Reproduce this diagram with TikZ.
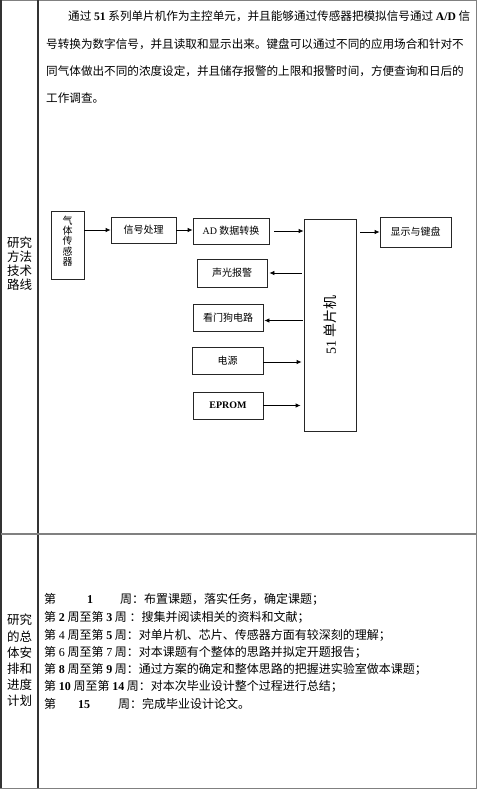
\documentclass[tikz,border=0pt]{standalone}
\usepackage{fontspec}
\setmainfont{Liberation Serif}
\newfontfamily\cjk{Noto Sans CJK SC}
\usetikzlibrary{arrows.meta,calc}
\XeTeXlinebreaklocale "zh"
\XeTeXlinebreakskip=0pt plus 2pt
\newcommand\en[1]{{\rmfamily #1}}
\newcommand\enb[1]{{\rmfamily\bfseries #1}}
\begin{document}
\begin{tikzpicture}[x=1pt,y=-1pt,
  tline/.style={line width=1.1pt,draw=black!80},
  gline/.style={line width=1.1pt,draw=black!50},
  box/.style={draw=black!85,line width=0.8pt,inner sep=0pt,font=\fontsize{10}{12}\cjk},
  arr/.style={-{Latex[length=5pt,width=4.5pt]},line width=0.8pt},
  para/.style={anchor=west,inner sep=0pt,font=\fontsize{11.6}{14}\cjk},
  sched/.style={anchor=west,inner sep=0pt,font=\fontsize{12}{14}\cjk},
  side/.style={align=center,inner sep=0pt}]
\useasboundingbox (0,0) rectangle (479,790);
% table
\draw[gline] (0,0.5) -- (477,0.5);
\draw[tline] (1,0) -- (1,788);
\draw[tline] (38,0) -- (38,788);
\draw[gline] (476.5,0) -- (476.5,788.5);
\draw[gline] (1,534) -- (476.5,534);
\draw[gline] (0,788.5) -- (477,788.5);
% paragraph
\node[para] (p1) at (68,16) {\makebox[402pt][s]{通过 \enb{51} 系列单片机作为主控单元，并且能够通过传感器把模拟信号通过 \enb{A/D} 信}};
\node[para] (p2) at (46,44) {\makebox[424pt][s]{号转换为数字信号，并且读取和显示出来。键盘可以通过不同的应用场合和针对不}};
\node[para] (p3) at (46,71) {\makebox[424pt][s]{同气体做出不同的浓度设定，并且储存报警的上限和报警时间，方便查询和日后的}};
\node[para] (p4) at (46,98) {工作调查。};
% side labels
\node[side,font=\fontsize{12.5}{14}\cjk] (lab1) at (19.5,264) {研究\\方法\\技术\\路线};
\node[side,font=\fontsize{12.5}{16.2}\cjk] (lab2) at (19.5,660.5) {研究\\的总\\体安\\排和\\进度\\计划};
% diagram boxes
\node[box,minimum width=33pt,minimum height=68pt] (gas) at (67.5,245) {};
\node[side,font=\fontsize{10}{10.3}\cjk] (gastext) at (67.5,241) {气\\体\\传\\感\\器};
\node[box,minimum width=65pt,minimum height=26pt] (sig) at (143.5,230) {信号处理};
\node[box,minimum width=76pt,minimum height=26pt] (ad) at (231,231) {\en{AD} 数据转换};
\node[box,minimum width=70pt,minimum height=28pt] (alarm) at (232,273) {声光报警};
\node[box,minimum width=70pt,minimum height=27pt] (wd) at (228,317.5) {看门狗电路};
\node[box,minimum width=71pt,minimum height=27pt] (pwr) at (227.5,360.5) {电源};
\node[box,minimum width=70pt,minimum height=27pt] (eprom) at (228,405.5) {\enb{EPROM}};
\node[box,minimum width=52pt,minimum height=212pt] (mcu) at (330,325) {};
\node[rotate=90,inner sep=0pt,font=\fontsize{14}{16}\cjk] (mcutext) at (330.5,325) {\en{51} 单片机};
\node[box,minimum width=71pt,minimum height=30pt] (disp) at (415.5,232) {显示与键盘};
% connectors
\draw[arr] (gas.east |- sig.west) -- (sig.west);
\draw[arr] (sig.east) -- (sig.east -| ad.west);
\draw[arr] ($(ad.east)+(5,0)$) -- (ad.east -| mcu.west);
\draw[arr] ($(mcu.east |- disp.west)+(4,0)$) -- (disp.west);
\draw[arr] ($(mcu.west |- alarm.east)+(-2,0)$) -- ($(alarm.east)+(2,0)$);
\draw[arr] ($(mcu.west |- wd.east)+(-1,3)$) -- ($(wd.east)+(1,3)$);
\draw[arr] ($(pwr.east)+(0,1.5)$) -- ($(mcu.west |- pwr.east)+(-2,1.5)$);
\draw[arr] (eprom.east) -- ($(mcu.west |- eprom.east)+(-3,0)$);
% schedule
\node[sched] (s1) at (44,599) {第\hspace{31pt}\enb{1}\hspace{27pt}周：布置课题，落实任务，确定课题；};
\node[sched] (s2) at (44,617) {第 \enb{2} 周至第 \enb{3} 周 ：搜集并阅读相关的资料和文献；};
\node[sched] (s3) at (44,635) {第 \en{4} 周至第 \enb{5} 周：对单片机、芯片、传感器方面有较深刻的理解；};
\node[sched] (s4) at (44,652) {第 \en{6} 周至第 \en{7} 周：对本课题有个整体的思路并拟定开题报告；};
\node[sched] (s5) at (44,669) {第 \enb{8} 周至第 \enb{9} 周：通过方案的确定和整体思路的把握进实验室做本课题；};
\node[sched] (s6) at (44,686) {第 \enb{10} 周至第 \enb{14} 周：对本次毕业设计整个过程进行总结；};
\node[sched] (s7) at (44,704) {第\hspace{22pt}\enb{15}\hspace{28pt}周：完成毕业设计论文。};
\end{tikzpicture}
\end{document}
